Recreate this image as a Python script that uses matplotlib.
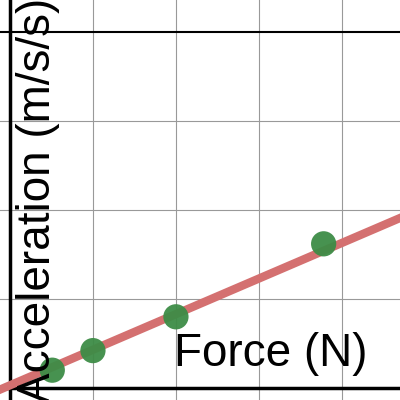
import numpy as np
import matplotlib
matplotlib.use("Agg")
import matplotlib.pyplot as plt

force = [0.51, 1.0, 2.0, 3.78]
accel = [0.2, 0.42, 0.8, 1.62]
slope, intercept = 0.4, 0.03

fig = plt.figure(figsize=(4, 4), dpi=100)
ax = fig.add_axes([0, 0, 1, 1])
ax.set_xlim(-0.12, 4.7)
ax.set_ylim(-0.135, 4.36)
for x in [1, 2, 3, 4]:
    ax.axvline(x, color='#999999', lw=0.8, zorder=0)
for y in [1, 2, 3]:
    ax.axhline(y, color='#999999', lw=0.8, zorder=0)
ax.axhline(4, color='black', lw=1.5, zorder=0)
ax.axhline(0, color='black', lw=2.5, zorder=1)
ax.axvline(0, color='black', lw=2.5, zorder=1)

xs = np.array(ax.get_xlim())
ax.plot(xs, slope * xs + intercept, color='#d47070', lw=6, zorder=2)
ax.scatter(force, accel, s=330, color='#3d8c46', alpha=0.95, zorder=3, edgecolors='none')

ax.text(0.92, 0.115, 'Force (N)', transform=ax.transAxes, fontsize=33,
        ha='right', va='center', family='Liberation Sans')
ax.text(0.095, 0.5, 'Acceleration (m/s/s)', transform=ax.transAxes, fontsize=33,
        rotation=90, ha='center', va='center', family='Liberation Sans')
ax.axis('off')
fig.savefig('out.png')
